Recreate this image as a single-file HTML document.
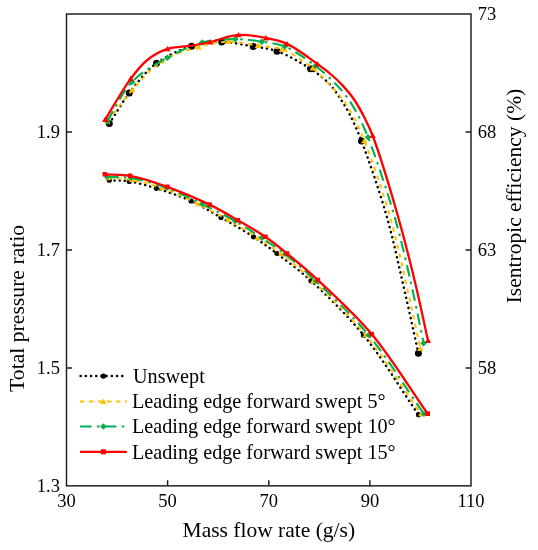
<!DOCTYPE html>
<html><head><meta charset="utf-8"><title>Chart</title>
<style>html,body{margin:0;padding:0;background:#fff}svg{display:block}text{font-family:"Liberation Serif","Times New Roman",serif;fill:#000}</style></head><body>
<svg width="538" height="550" viewBox="0 0 538 550">
<rect width="538" height="550" fill="#fff"/>
<path d="M109.3 123.6C116.0 113.4 121.7 102.8 129.3 93.0C137.3 82.7 146.0 71.0 156.5 63.2C166.8 55.5 180.0 49.7 191.5 46.2C201.7 43.1 211.5 42.0 221.7 42.0C232.1 42.0 243.5 44.8 253.2 46.5C261.7 47.9 268.6 48.2 277.0 51.2C287.5 54.9 301.3 62.8 310.5 68.8C317.6 73.4 323.5 78.0 328.4 82.9C332.5 87.0 335.1 91.0 338.4 95.7C342.1 101.0 345.7 106.8 349.2 113.5C353.4 121.6 357.0 129.5 361.5 141.0C368.7 159.6 379.3 190.7 386.3 215.0C392.9 238.0 397.5 260.1 402.8 283.0C408.2 306.2 413.2 329.8 418.4 353.2" fill="none" stroke="#000000" stroke-width="2.5" stroke-dasharray="0.1 5.1" stroke-linecap="round"/>
<circle cx="109.3" cy="123.6" r="3.50" fill="#000000"/>
<circle cx="129.3" cy="93.0" r="3.50" fill="#000000"/>
<circle cx="156.5" cy="63.2" r="3.50" fill="#000000"/>
<circle cx="191.5" cy="46.2" r="3.50" fill="#000000"/>
<circle cx="221.7" cy="42.0" r="3.50" fill="#000000"/>
<circle cx="253.2" cy="46.5" r="3.50" fill="#000000"/>
<circle cx="277.0" cy="51.2" r="3.50" fill="#000000"/>
<circle cx="310.5" cy="68.8" r="3.50" fill="#000000"/>
<circle cx="361.5" cy="141.0" r="3.50" fill="#000000"/>
<circle cx="418.4" cy="353.2" r="3.50" fill="#000000"/>
<path d="M109.3 180.2C116.0 180.6 122.2 180.3 129.3 181.4C137.7 182.7 146.8 185.4 156.3 188.3C167.2 191.7 180.1 196.0 191.1 201.0C201.6 205.8 210.9 211.7 221.0 217.5C231.7 223.6 243.7 230.4 253.5 236.8C262.1 242.4 268.5 247.1 276.9 253.5C287.3 261.4 298.8 269.7 311.0 280.8C327.0 295.4 346.5 314.3 363.4 334.9C382.5 358.2 400.1 388.1 418.5 414.7" fill="none" stroke="#000000" stroke-width="2.5" stroke-dasharray="0.1 5.1" stroke-linecap="round"/>
<circle cx="109.3" cy="180.2" r="2.60" fill="#000000"/>
<circle cx="129.3" cy="181.4" r="2.60" fill="#000000"/>
<circle cx="156.3" cy="188.3" r="2.60" fill="#000000"/>
<circle cx="191.1" cy="201.0" r="2.60" fill="#000000"/>
<circle cx="221.0" cy="217.5" r="2.60" fill="#000000"/>
<circle cx="253.5" cy="236.8" r="2.60" fill="#000000"/>
<circle cx="276.9" cy="253.5" r="2.60" fill="#000000"/>
<circle cx="311.0" cy="280.8" r="2.60" fill="#000000"/>
<circle cx="363.4" cy="334.9" r="2.60" fill="#000000"/>
<circle cx="418.5" cy="414.7" r="2.60" fill="#000000"/>
<path d="M107.4 121.4C115.7 110.9 123.4 99.9 132.4 89.9C141.5 79.8 150.8 68.4 162.0 61.2C172.9 54.2 186.8 50.3 198.5 47.0C208.8 44.1 218.3 41.9 228.2 41.7C238.1 41.5 248.6 44.3 258.0 45.6C266.4 46.8 273.8 46.3 282.0 49.3C292.0 52.9 304.0 61.2 312.7 68.0C320.2 73.9 326.4 81.1 331.7 86.8C335.8 91.2 339.0 94.6 342.3 99.0C345.9 103.8 349.0 108.6 352.3 114.6C356.4 122.1 360.0 129.7 364.4 140.8C371.7 159.1 382.4 190.7 389.5 215.0C396.2 238.0 400.8 260.5 406.0 283.0C411.1 305.1 415.6 326.8 420.4 348.7" fill="none" stroke="#ffc000" stroke-width="2.0" stroke-dasharray="4.4 4.6"/>
<path d="M107.4 118.4L110.6 123.8L104.2 123.8Z" fill="#ffc000"/>
<path d="M132.4 86.9L135.6 92.3L129.2 92.3Z" fill="#ffc000"/>
<path d="M162.0 58.2L165.2 63.6L158.8 63.6Z" fill="#ffc000"/>
<path d="M198.5 44.0L201.7 49.4L195.3 49.4Z" fill="#ffc000"/>
<path d="M228.2 38.7L231.4 44.1L225.0 44.1Z" fill="#ffc000"/>
<path d="M258.0 42.6L261.2 48.0L254.8 48.0Z" fill="#ffc000"/>
<path d="M282.0 46.3L285.2 51.7L278.8 51.7Z" fill="#ffc000"/>
<path d="M312.7 65.0L315.9 70.4L309.5 70.4Z" fill="#ffc000"/>
<path d="M364.4 137.8L367.6 143.2L361.2 143.2Z" fill="#ffc000"/>
<path d="M420.4 345.7L423.6 351.1L417.2 351.1Z" fill="#ffc000"/>
<path d="M108.0 178.0C116.0 178.7 123.6 178.5 132.0 180.0C141.5 181.7 151.7 184.4 162.0 188.0C173.6 192.1 186.6 198.5 198.0 204.0C208.6 209.2 218.1 214.4 228.0 220.0C238.1 225.7 248.8 232.0 258.0 238.0C266.3 243.4 272.9 247.8 281.0 254.0C291.0 261.6 301.3 270.1 313.0 281.0C328.7 295.6 348.5 314.5 365.5 335.0C384.7 358.2 402.5 387.7 421.0 414.0" fill="none" stroke="#ffc000" stroke-width="2.0" stroke-dasharray="4.4 4.6"/>
<path d="M108.0 175.2L110.9 180.2L105.1 180.2Z" fill="#ffc000"/>
<path d="M132.0 177.2L134.9 182.2L129.1 182.2Z" fill="#ffc000"/>
<path d="M162.0 185.2L164.9 190.2L159.1 190.2Z" fill="#ffc000"/>
<path d="M198.0 201.2L200.9 206.2L195.1 206.2Z" fill="#ffc000"/>
<path d="M228.0 217.2L230.9 222.2L225.1 222.2Z" fill="#ffc000"/>
<path d="M258.0 235.2L260.9 240.2L255.1 240.2Z" fill="#ffc000"/>
<path d="M281.0 251.2L283.9 256.2L278.1 256.2Z" fill="#ffc000"/>
<path d="M313.0 278.2L315.9 283.2L310.1 283.2Z" fill="#ffc000"/>
<path d="M365.5 332.2L368.4 337.2L362.6 337.2Z" fill="#ffc000"/>
<path d="M421.0 411.2L423.9 416.2L418.1 416.2Z" fill="#ffc000"/>
<path d="M107.2 121.2C115.5 108.1 121.7 92.6 132.0 81.9C141.9 71.6 155.3 64.5 167.4 57.8C178.8 51.5 190.6 45.6 202.3 42.5C213.3 39.6 225.0 39.1 235.4 39.1C244.7 39.1 253.3 40.4 261.7 41.7C269.7 42.9 276.9 43.3 284.8 46.5C294.7 50.5 307.0 59.7 315.5 66.0C322.2 71.0 327.3 75.8 332.3 80.6C336.7 84.8 340.3 88.5 344.0 93.2C348.1 98.4 351.8 104.0 355.5 110.6C359.9 118.4 363.4 125.8 368.0 137.2C375.6 156.2 386.8 189.8 394.1 215.0C400.9 238.3 406.0 261.0 411.0 283.0C415.7 303.6 419.4 323.1 423.6 343.2" fill="none" stroke="#00b050" stroke-width="2.1" stroke-dasharray="11.6 5.4 2.5 5.3"/>
<path d="M107.2 117.9L110.5 121.2L107.2 124.5L103.9 121.2Z" fill="#00b050"/>
<path d="M132.0 78.6L135.3 81.9L132.0 85.2L128.7 81.9Z" fill="#00b050"/>
<path d="M167.4 54.5L170.7 57.8L167.4 61.1L164.1 57.8Z" fill="#00b050"/>
<path d="M202.3 39.2L205.6 42.5L202.3 45.8L199.0 42.5Z" fill="#00b050"/>
<path d="M235.4 35.8L238.7 39.1L235.4 42.4L232.1 39.1Z" fill="#00b050"/>
<path d="M261.7 38.4L265.0 41.7L261.7 45.0L258.4 41.7Z" fill="#00b050"/>
<path d="M284.8 43.2L288.1 46.5L284.8 49.8L281.5 46.5Z" fill="#00b050"/>
<path d="M315.5 62.7L318.8 66.0L315.5 69.3L312.2 66.0Z" fill="#00b050"/>
<path d="M368.0 133.9L371.3 137.2L368.0 140.5L364.7 137.2Z" fill="#00b050"/>
<path d="M423.6 339.9L426.9 343.2L423.6 346.5L420.3 343.2Z" fill="#00b050"/>
<path d="M107.0 177.0C115.0 177.3 122.3 176.6 131.0 178.0C141.9 179.7 155.3 183.7 167.0 188.0C178.9 192.4 190.6 198.4 202.0 204.0C213.2 209.5 224.7 215.1 235.0 221.0C244.6 226.5 253.4 232.3 262.0 238.0C270.0 243.3 277.0 247.7 285.0 254.0C294.7 261.6 304.4 270.2 315.8 281.0C331.3 295.7 351.5 314.5 368.5 335.0C387.7 358.2 405.5 387.7 424.0 414.0" fill="none" stroke="#00b050" stroke-width="2.1" stroke-dasharray="11.6 5.4 2.5 5.3"/>
<path d="M107.0 174.0L110.0 177.0L107.0 180.0L104.0 177.0Z" fill="#00b050"/>
<path d="M131.0 175.0L134.0 178.0L131.0 181.0L128.0 178.0Z" fill="#00b050"/>
<path d="M167.0 185.0L170.0 188.0L167.0 191.0L164.0 188.0Z" fill="#00b050"/>
<path d="M202.0 201.0L205.0 204.0L202.0 207.0L199.0 204.0Z" fill="#00b050"/>
<path d="M235.0 218.0L238.0 221.0L235.0 224.0L232.0 221.0Z" fill="#00b050"/>
<path d="M262.0 235.0L265.0 238.0L262.0 241.0L259.0 238.0Z" fill="#00b050"/>
<path d="M285.0 251.0L288.0 254.0L285.0 257.0L282.0 254.0Z" fill="#00b050"/>
<path d="M315.8 278.0L318.8 281.0L315.8 284.0L312.8 281.0Z" fill="#00b050"/>
<path d="M368.5 332.0L371.5 335.0L368.5 338.0L365.5 335.0Z" fill="#00b050"/>
<path d="M424.0 411.0L427.0 414.0L424.0 417.0L421.0 414.0Z" fill="#00b050"/>
<path d="M105.2 119.6C113.7 105.9 122.7 89.4 130.8 78.6C136.7 70.7 141.5 64.5 147.9 59.5C153.8 54.8 161.5 50.9 167.4 48.9C171.8 47.4 175.4 47.4 179.5 46.9C183.6 46.3 187.3 46.3 191.8 45.6C197.3 44.8 203.4 43.5 210.2 42.0C218.6 40.1 229.1 35.5 238.5 34.9C247.7 34.3 257.5 36.3 266.0 38.0C273.6 39.5 279.7 40.5 287.1 43.9C296.7 48.3 309.7 58.4 317.7 64.2C323.2 68.1 326.9 70.9 331.1 74.5C335.1 77.9 338.7 81.2 342.3 85.1C346.1 89.2 349.9 93.4 353.4 98.5C357.5 104.5 361.9 112.5 365.2 119.1C368.1 124.8 369.7 127.9 372.6 135.5C378.9 151.9 390.3 189.4 397.6 215.0C404.3 238.5 410.0 261.2 415.2 283.0C420.0 302.9 423.7 321.3 428.0 340.5" fill="none" stroke="#ff0000" stroke-width="2.3" />
<path d="M105.2 116.6L108.4 122.0L102.0 122.0Z" fill="#ff0000"/>
<path d="M130.8 75.6L134.0 81.0L127.6 81.0Z" fill="#ff0000"/>
<path d="M167.4 45.9L170.6 51.3L164.2 51.3Z" fill="#ff0000"/>
<path d="M210.2 39.0L213.4 44.4L207.0 44.4Z" fill="#ff0000"/>
<path d="M238.5 31.9L241.7 37.3L235.3 37.3Z" fill="#ff0000"/>
<path d="M266.0 35.0L269.2 40.4L262.8 40.4Z" fill="#ff0000"/>
<path d="M287.1 40.9L290.3 46.3L283.9 46.3Z" fill="#ff0000"/>
<path d="M317.7 61.2L320.9 66.6L314.5 66.6Z" fill="#ff0000"/>
<path d="M372.6 132.5L375.8 137.9L369.4 137.9Z" fill="#ff0000"/>
<path d="M428.0 337.5L431.2 342.9L424.8 342.9Z" fill="#ff0000"/>
<path d="M104.9 174.3C113.3 174.8 121.0 174.2 130.1 175.8C141.4 177.8 154.6 182.3 167.3 186.8C181.1 191.7 197.1 198.5 209.6 204.6C220.1 209.7 228.5 214.8 237.8 220.2C247.1 225.6 256.8 231.0 265.3 236.8C273.1 242.1 279.2 247.2 287.0 253.5C296.5 261.2 306.4 269.3 317.9 280.0C333.6 294.6 354.5 313.6 371.8 334.2C391.3 357.5 409.1 387.2 427.7 413.7" fill="none" stroke="#ff0000" stroke-width="2.3" />
<rect x="102.6" y="172.0" width="4.6" height="4.6" fill="#ff0000"/>
<rect x="127.8" y="173.5" width="4.6" height="4.6" fill="#ff0000"/>
<rect x="165.0" y="184.5" width="4.6" height="4.6" fill="#ff0000"/>
<rect x="207.3" y="202.3" width="4.6" height="4.6" fill="#ff0000"/>
<rect x="235.5" y="217.9" width="4.6" height="4.6" fill="#ff0000"/>
<rect x="263.0" y="234.5" width="4.6" height="4.6" fill="#ff0000"/>
<rect x="284.7" y="251.2" width="4.6" height="4.6" fill="#ff0000"/>
<rect x="315.6" y="277.7" width="4.6" height="4.6" fill="#ff0000"/>
<rect x="369.5" y="331.9" width="4.6" height="4.6" fill="#ff0000"/>
<rect x="425.4" y="411.4" width="4.6" height="4.6" fill="#ff0000"/>
<rect x="66.5" y="14.0" width="404.5" height="471.85" fill="none" stroke="#1c1c1c" stroke-width="1.45"/>
<path d="M167.6 485.85V480.35M268.8 485.85V480.35M369.9 485.85V480.35M66.5 367.9H72.0M471.0 367.9H465.5M66.5 249.9H72.0M471.0 249.9H465.5M66.5 132.0H72.0M471.0 132.0H465.5" stroke="#1c1c1c" stroke-width="1.45" fill="none"/>
<text x="66.5" y="507.3" font-size="18.5" text-anchor="middle">30</text>
<text x="167.6" y="507.3" font-size="18.5" text-anchor="middle">50</text>
<text x="268.8" y="507.3" font-size="18.5" text-anchor="middle">70</text>
<text x="369.9" y="507.3" font-size="18.5" text-anchor="middle">90</text>
<text x="471.0" y="507.3" font-size="18.5" text-anchor="middle">110</text>
<text x="59.9" y="491.6" font-size="18.5" text-anchor="end">1.3</text>
<text x="59.9" y="373.6" font-size="18.5" text-anchor="end">1.5</text>
<text x="59.9" y="255.6" font-size="18.5" text-anchor="end">1.7</text>
<text x="59.9" y="137.7" font-size="18.5" text-anchor="end">1.9</text>
<text x="477.8" y="373.7" font-size="18.5">58</text>
<text x="477.8" y="255.7" font-size="18.5">63</text>
<text x="477.8" y="137.8" font-size="18.5">68</text>
<text x="477.8" y="19.8" font-size="18.5">73</text>
<text x="268.85" y="536.5" font-size="21.5" text-anchor="middle">Mass flow rate (g/s)</text>
<text transform="translate(24.1 308.4) rotate(-90)" font-size="21.7" text-anchor="middle">Total pressure ratio</text>
<text transform="translate(520.8 196.05) rotate(-90)" font-size="21.5" text-anchor="middle">Isentropic efficiency (%)</text>
<path d="M80.6 376.1H126.8" fill="none" stroke="#000000" stroke-width="2.5" stroke-dasharray="0.1 5.1" stroke-linecap="round"/>
<circle cx="103.4" cy="376.1" r="2.70" fill="#000000"/>
<text x="133.0" y="383.0" font-size="20.2">Unswept</text>
<path d="M80 401.5H126.8" fill="none" stroke="#ffc000" stroke-width="2.0" stroke-dasharray="4.4 4.6"/>
<path d="M103.4 398.5L106.6 403.9L100.2 403.9Z" fill="#ffc000"/>
<text x="132.0" y="408.4" font-size="20.2">Leading edge forward swept 5°</text>
<path d="M80 426.5H126.8" fill="none" stroke="#00b050" stroke-width="2.1" stroke-dasharray="11.6 5.4 2.5 5.3"/>
<path d="M103.4 423.2L106.7 426.5L103.4 429.8L100.1 426.5Z" fill="#00b050"/>
<text x="132.0" y="433.4" font-size="20.2">Leading edge forward swept 10°</text>
<path d="M80 451.8H126.8" fill="none" stroke="#ff0000" stroke-width="2.3" />
<rect x="100.9" y="449.3" width="5.0" height="5.0" fill="#ff0000"/>
<text x="132.0" y="458.7" font-size="20.2">Leading edge forward swept 15°</text>
</svg></body></html>
